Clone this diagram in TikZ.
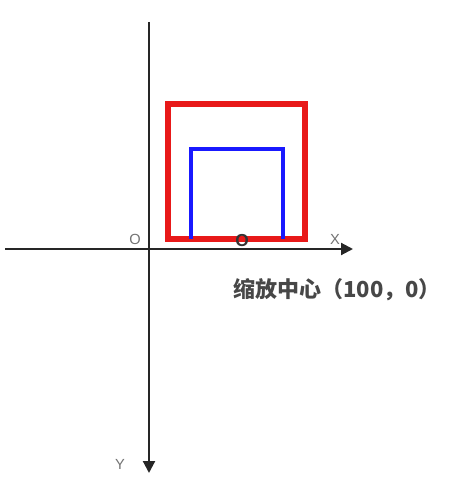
\documentclass[tikz,border=0pt]{standalone}
\usepackage{fontspec}
\setmainfont{Liberation Sans}
\newfontfamily\cjk{Noto Sans CJK SC}
\usetikzlibrary{
	arrows.meta,
	positioning
}

\begin{document}
\begin{tikzpicture} [
		x = 0.75pt,
		y = -0.75pt,
		axis/.style = {
			draw = black!85,
			line width = 1.6pt,
			-{Triangle[length = 9pt, width = 9pt]},
		},
		label/.style = {
			text = black!55,
			font = \fontsize{11pt}{11pt}\selectfont,
			inner sep = 0pt,
		},
		outer-box/.style = {
			draw = red!90!black!90!white,
			line width = 5.2pt,
		},
		inner-box/.style = {
			draw = blue!90!white,
			line width = 3.3pt,
		}
	]

	\useasboundingbox (0,0) rectangle (472,502);

	% axes
	\coordinate (xs) at (5,249);
	\coordinate (xe) at (353,249);
	\coordinate (ys) at (149,22);
	\coordinate (ye) at (149,473);
	\path[axis] (xs) -- (xe);
	\path[axis] (ys) -- (ye);

	% squares
	\coordinate (a) at (168,104);
	\coordinate (b) at (305,239);
	\path[outer-box] (a) rectangle (b);
	\coordinate (c1) at (191,239);
	\coordinate (c2) at (191,149);
	\coordinate (c3) at (283,149);
	\coordinate (c4) at (283,239);
	\path[inner-box] (c1) -- (c2) -- (c3) -- (c4);

	% labels
	\node[label] (o) at (135,239) {O};
	\node[label] (x) at (335,239) {X};
	\node[label] (y) at (120,464) {Y};
	\node[label, text = black!80, font = \bfseries\fontsize{13pt}{13pt}\selectfont] (centre) at (242,241) {O};
	\node[text = black!72, inner sep = 0pt, font = \cjk\bfseries\fontsize{16.5pt}{16.5pt}\selectfont, anchor = west] (note) at (233,290) {缩放中心（100，0）};
\end{tikzpicture}
\end{document}
